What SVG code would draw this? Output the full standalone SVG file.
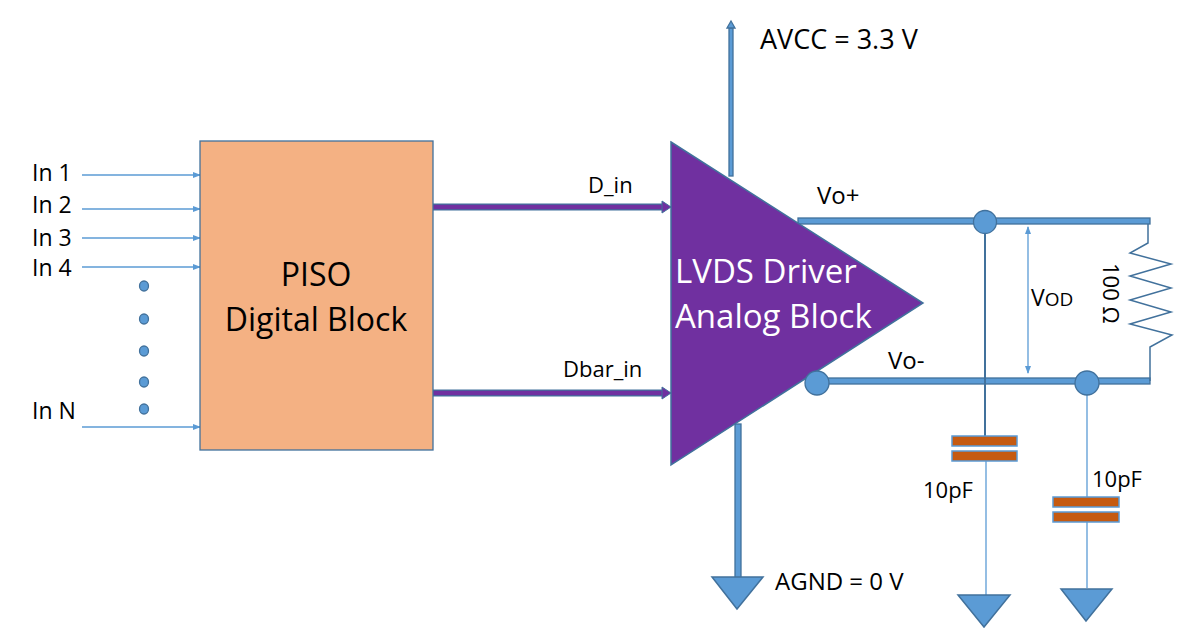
<svg xmlns="http://www.w3.org/2000/svg" width="1183" height="643" viewBox="0 0 1183 643">
<style>
text{font-family:"Open Sans","Liberation Sans",sans-serif;fill:#000}
.thin{stroke:#5B9BD5;stroke-width:1.3;fill:none}
.bus{fill:#5B9BD5;stroke:#41719C;stroke-width:1.3}
.cap{fill:#C55A11;stroke:#5B9BD5;stroke-width:1.5}
.gnd{fill:#5B9BD5;stroke:#41719C;stroke-width:1.5}
.dot{fill:#5B9BD5;stroke:#41719C;stroke-width:1.3}
</style>
<defs>
<marker id="a" markerWidth="8" markerHeight="8" refX="7" refY="4" orient="auto" markerUnits="userSpaceOnUse"><path d="M0,1 L8,4 L0,7z" fill="#5B9BD5"/></marker>
<marker id="as" markerWidth="8" markerHeight="8" refX="1" refY="4" orient="auto" markerUnits="userSpaceOnUse"><path d="M8,1 L0,4 L8,7z" fill="#5B9BD5"/></marker>
</defs>
<g id="connectors">
<line class="thin" x1="82" y1="175" x2="200" y2="175" marker-end="url(#a)"/>
<line class="thin" x1="82" y1="209" x2="200" y2="209" marker-end="url(#a)"/>
<line class="thin" x1="82" y1="238" x2="200" y2="238" marker-end="url(#a)"/>
<line class="thin" x1="82" y1="267" x2="200" y2="267" marker-end="url(#a)"/>
<line class="thin" x1="82" y1="427" x2="200" y2="427" marker-end="url(#a)"/>
<g id="D_in"><line x1="433" y1="207" x2="664" y2="207" stroke="#41719C" stroke-width="7"/><line x1="433" y1="207" x2="664" y2="207" stroke="#7030A0" stroke-width="4.5"/><path d="M662,201 L671,207 L662,213z" fill="#7030A0" stroke="#41719C"/></g>
<g id="Dbar_in"><line x1="433" y1="393" x2="664" y2="393" stroke="#41719C" stroke-width="7"/><line x1="433" y1="393" x2="664" y2="393" stroke="#7030A0" stroke-width="4.5"/><path d="M662,387 L671,393 L662,399z" fill="#7030A0" stroke="#41719C"/></g>
<rect class="bus" x="729" y="28" width="4" height="148"/>
<path d="M727,28 L731,21 L735,28z" class="bus"/>
<rect class="bus" x="735" y="424" width="6" height="154"/>
<rect class="bus" x="798" y="218" width="352" height="6"/>
<rect class="bus" x="817" y="378" width="333" height="6"/>
<polyline points="1148,224 1148,243 1130,253 1171,264 1130,276 1171,288 1130,300 1171,312 1130,324 1172,335 1150,347 1150,381" fill="none" stroke="#41719C" stroke-width="1.5"/>
<line class="thin" x1="1028" y1="227" x2="1028" y2="373" marker-start="url(#as)" marker-end="url(#a)"/>
<line x1="985" y1="221" x2="985" y2="436" stroke="#41719C" stroke-width="2"/>
<line class="thin" x1="986" y1="461" x2="986" y2="595"/>
<line class="thin" x1="1087" y1="383" x2="1087" y2="497"/>
<line class="thin" x1="1087" y1="522" x2="1087" y2="588"/>
</g>
<g id="piso"><rect x="200" y="141" width="233" height="309" fill="#F4B183" stroke="#41719C" stroke-width="1.3"/>
<text x="316" y="286" font-size="32" text-anchor="middle">PISO</text><text x="316" y="331" font-size="32" text-anchor="middle">Digital Block</text></g>
<g id="dots"><ellipse class="dot" cx="144" cy="286" rx="4.5" ry="5"/><ellipse class="dot" cx="144" cy="319" rx="4.5" ry="5"/><ellipse class="dot" cx="144" cy="351" rx="4.5" ry="5"/><ellipse class="dot" cx="144" cy="382" rx="4.5" ry="5"/><ellipse class="dot" cx="144" cy="409" rx="4.5" ry="5"/></g>
<g id="inputs" font-size="23"><text x="32" y="181">In 1</text><text x="32" y="213">In 2</text><text x="32" y="246">In 3</text><text x="32" y="276">In 4</text><text x="32" y="419">In N</text></g>
<g id="driver"><path d="M671,142 L923,303 L671,465z" fill="#7030A0" stroke="#41719C" stroke-width="1.5"/>
<text x="675" y="283" font-size="33" style="fill:#fff">LVDS Driver</text><text x="675" y="328" font-size="33" style="fill:#fff">Analog Block</text></g>
<g id="nodes"><circle class="dot" cx="985" cy="222" r="11.5"/><circle class="dot" cx="817" cy="383" r="12"/><circle class="dot" cx="1087" cy="383" r="12"/></g>
<g id="cap1"><rect class="cap" x="952" y="436" width="65" height="10"/><rect class="cap" x="952" y="451" width="65" height="10"/></g>
<g id="cap2"><rect class="cap" x="1053" y="497" width="66" height="10"/><rect class="cap" x="1053" y="512" width="66" height="10"/></g>
<g id="gnds"><path class="gnd" d="M712,577 L763,577 L737,609z"/><path class="gnd" d="M958,595 L1010,595 L984,627z"/><path class="gnd" d="M1061,589 L1112,589 L1086,621z"/></g>
<g id="labels" font-size="24">
<text x="760" y="49" font-size="27">AVCC = 3.3 V</text>
<text x="588" y="193" font-size="22">D_in</text>
<text x="563" y="377" font-size="22">Dbar_in</text>
<text x="817" y="204">Vo+</text>
<text x="888" y="369">Vo-</text>
<text x="1031" y="306" font-size="23">V<tspan font-size="19">OD</tspan></text>
<text transform="translate(1103,263) rotate(90)" font-size="22">100 Ω</text>
<text x="923" y="498" font-size="22">10pF</text>
<text x="1092" y="487" font-size="22">10pF</text>
<text x="775" y="590">AGND = 0 V</text>
</g>
</svg>
